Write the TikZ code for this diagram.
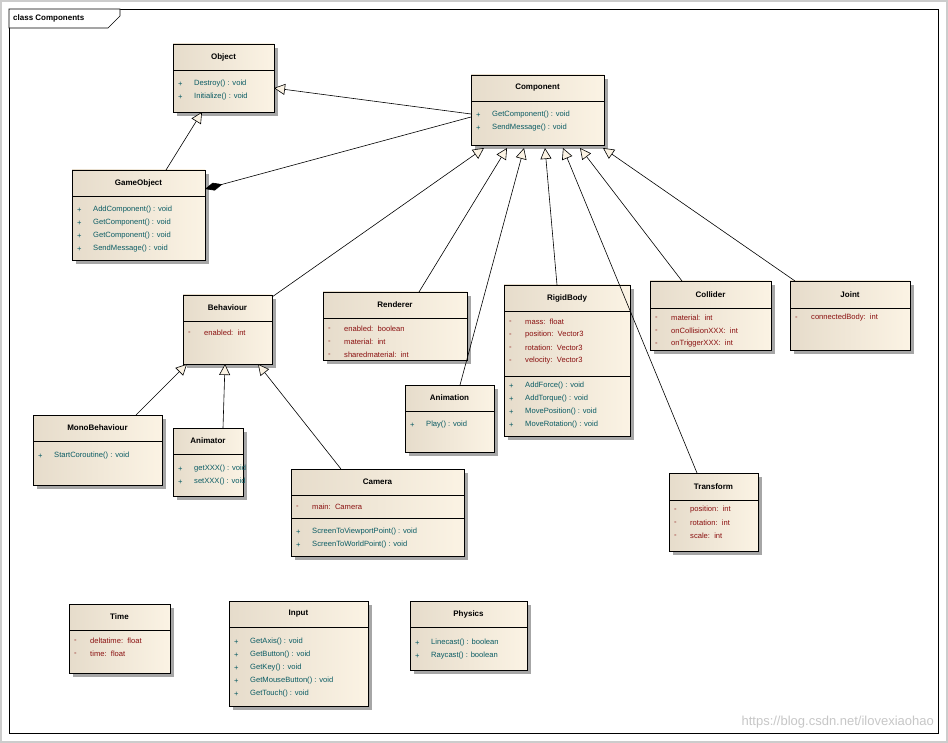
\documentclass[tikz,border=0pt]{standalone}
\usepackage{fontspec}
\setmainfont{Liberation Sans}
\usetikzlibrary{arrows.meta,calc}
\definecolor{pubc}{HTML}{0A5C64}
\definecolor{privc}{HTML}{8A1010}
\definecolor{bgL}{HTML}{E6DCCB}
\definecolor{bgR}{HTML}{FBF3E4}
\newcommand\ubox[7]{%
 \fill[black!35] (#2+4,#3+4) rectangle (#4+4,#5+4);
 \node[draw=black, line width=0.9pt, left color=bgL, right color=bgR, anchor=north west, inner sep=0pt, outer sep=0pt,
   minimum width={(#4-#2)*1pt}, minimum height={(#5-#3)*1pt}] (#1) at (#2,#3) {};
 \draw[line width=0.8pt] (#2,#6) -- (#4,#6);
 \node[font=\fontsize{8}{9}\selectfont\bfseries] (#1-t) at ({(#2+#4)/2},{(#3+#6)/2}) {#7};}
\newcommand\mem[5]{%
 \node[anchor=west, inner sep=0pt, text=#5, font=\fontsize{7.6}{9}\selectfont] at (#1+5,#2) {#3};
 \node[anchor=west, inner sep=0pt, text=#5, font=\fontsize{7.6}{9}\selectfont] at (#1+21,#2) {#4};}
\newcommand\pub[3]{\mem{#1}{#2}{+}{#3}{pubc}}
\newcommand\pri[3]{\mem{#1}{#2}{-}{#3}{privc}}
\tikzset{gen/.style={-{Triangle[open,length=11pt,width=11pt,fill=bgR]}, line width=0.6pt},
 comp/.style={-{Diamond[length=18pt,width=8pt,fill=black]}, line width=0.6pt}}
\begin{document}
\begin{tikzpicture}[x=1pt,y=-1pt]
\useasboundingbox (0,0) rectangle (948,743);
\fill[white] (0,0) rectangle (948,743);
\draw[black!20, line width=2pt] (1,1) rectangle (947,742);
\draw[line width=0.7pt] (9,9) rectangle (938,733);
\draw[line width=0.7pt, fill=white] (9,9) -- (120,9) -- (120,16) -- (108,28) -- (9,28) -- cycle;
\node[anchor=west, inner sep=0pt, font=\fontsize{8}{9}\selectfont\bfseries] (frame) at (13,18.5) {class Components};

\ubox{Object}{173}{44}{274}{112}{70}{Object}
\pub{173}{84}{Destroy() : void}\pub{173}{97}{Initialize() : void}
\ubox{Component}{471}{75}{604}{145}{101}{Component}
\pub{471}{115}{GetComponent() : void}\pub{471}{128}{SendMessage() : void}
\ubox{GameObject}{72}{170}{205}{260}{196}{GameObject}
\pub{72}{210}{AddComponent() : void}\pub{72}{223}{GetComponent() : void}
\pub{72}{236}{GetComponent() : void}\pub{72}{249}{SendMessage() : void}
\ubox{Behaviour}{183}{295}{272}{364}{321}{Behaviour}
\pri{183}{333}{enabled:\ \ int}
\ubox{Renderer}{323}{292}{467}{360}{318}{Renderer}
\pri{323}{329}{enabled:\ \ boolean}\pri{323}{342}{material:\ \ int}\pri{323}{355}{sharedmaterial:\ \ int}
\ubox{RigidBody}{504}{285}{630}{436}{311}{RigidBody}
\draw[line width=0.8pt] (504,376) -- (630,376);
\pri{504}{322}{mass:\ \ float}\pri{504}{335}{position:\ \ Vector3}\pri{504}{348}{rotation:\ \ Vector3}\pri{504}{361}{velocity:\ \ Vector3}
\pub{504}{386}{AddForce() : void}\pub{504}{399}{AddTorque() : void}\pub{504}{412}{MovePosition() : void}\pub{504}{425}{MoveRotation() : void}
\ubox{Collider}{650}{281}{771}{350}{308}{Collider}
\pri{650}{318}{material:\ \ int}\pri{650}{331}{onCollisionXXX:\ \ int}\pri{650}{344}{onTriggerXXX:\ \ int}
\ubox{Joint}{790}{281}{910}{350}{308}{Joint}
\pri{790}{318}{connectedBody:\ \ int}
\ubox{Animation}{405}{385}{494}{452}{411}{Animation}
\pub{405}{425}{Play() : void}
\ubox{MonoBehaviour}{33}{415}{162}{485}{441}{MonoBehaviour}
\pub{33}{456}{StartCoroutine() : void}
\ubox{Animator}{173}{428}{243}{496}{454}{Animator}
\pub{173}{469}{getXXX() : void}\pub{173}{482}{setXXX() : void}
\ubox{Camera}{291}{469}{464}{556}{495}{Camera}
\draw[line width=0.8pt] (291,518) -- (464,518);
\pri{291}{507}{main:\ \ Camera}
\pub{291}{532}{ScreenToViewportPoint() : void}\pub{291}{545}{ScreenToWorldPoint() : void}
\ubox{Transform}{669}{473}{758}{551}{500}{Transform}
\pri{669}{510}{position:\ \ int}\pri{669}{523}{rotation:\ \ int}\pri{669}{536}{scale:\ \ int}
\ubox{Time}{69}{604}{170}{673}{630}{Time}
\pri{69}{641}{deltatime:\ \ float}\pri{69}{654}{time:\ \ float}
\ubox{Input}{229}{601}{368}{706}{627}{Input}
\pub{229}{642}{GetAxis() : void}\pub{229}{655}{GetButton() : void}\pub{229}{668}{GetKey() : void}
\pub{229}{681}{GetMouseButton() : void}\pub{229}{694}{GetTouch() : void}
\ubox{Physics}{410}{601}{527}{670}{627}{Physics}
\pub{410}{643}{Linecast() : boolean}\pub{410}{656}{Raycast() : boolean}

% connectors
\draw[gen] ($(Component.north west)+(0,39)$) -- ($(Object.north east)+(0,44)$);
\draw[gen] ($(GameObject.north west)+(94,0)$) -- ($(Object.south west)+(29,0)$);
\draw[comp] ($(Component.north west)+(0,42)$) -- ($(GameObject.north east)+(0,19)$);
\draw[gen] ($(Behaviour.north east)+(0,2)$) -- ($(Component.south west)+(13,3)$);
\draw[gen] ($(Renderer.north west)+(96,0)$) -- ($(Component.south west)+(36,3)$);
\draw[gen] ($(Animation.north west)+(55,0)$) -- ($(Component.south west)+(53,3)$);
\draw[gen] ($(RigidBody.north west)+(53,0)$) -- ($(Component.south west)+(74,3)$);
\draw[gen] ($(Transform.north west)+(28,0)$) -- ($(Component.south west)+(92,3)$);
\draw[gen] ($(Collider.north west)+(32,0)$) -- ($(Component.south west)+(109,3)$);
\draw[gen] ($(Joint.north west)+(5,0)$) -- ($(Component.south west)+(132,3)$);
\draw[gen] ($(MonoBehaviour.north west)+(103,0)$) -- ($(Behaviour.south west)+(4,0)$);
\draw[gen] ($(Animator.north west)+(50,0)$) -- ($(Behaviour.south west)+(42,0)$);
\draw[gen] ($(Camera.north west)+(50,0)$) -- ($(Behaviour.south west)+(75,0)$);

\node[anchor=east, inner sep=0pt, text=black!22, font=\fontsize{13}{14}\selectfont] (wm) at (934,722) {https://blog.csdn.net/ilovexiaohao};
\end{tikzpicture}
\end{document}
